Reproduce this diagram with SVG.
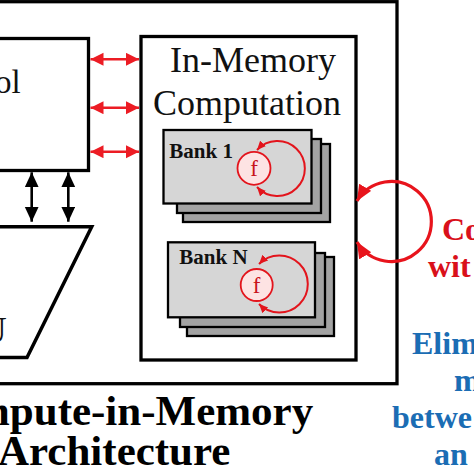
<svg xmlns="http://www.w3.org/2000/svg" width="474" height="474" viewBox="0 0 474 474">
<style>
.box{fill:#fff;stroke:#000;stroke-width:3.3}
.l1{fill:#d6d6d6;stroke:#000;stroke-width:2.3}
.lb{fill:#a3a3a3;stroke:#000;stroke-width:2.3}
.ra{stroke:#ec1c24;stroke-width:2.6;fill:none}
.ba{stroke:#000;stroke-width:2.6;fill:none}
.loop{stroke:#e3141c;stroke-width:2;fill:none}
.big{stroke:#e8141c;stroke-width:3.2;fill:none}
.fc{fill:#fde3e3;stroke:#e3141c;stroke-width:1.8}
.ft{font-family:"Liberation Serif",serif;font-size:23px;fill:#c8141c;text-anchor:middle}
.t36{font-family:"Liberation Serif",serif;font-size:36px;fill:#111}
.bank{font-family:"Liberation Serif",serif;font-size:21px;font-weight:bold;fill:#111}
.title{font-family:"Liberation Serif",serif;font-size:43px;font-weight:bold;fill:#000}
.red{font-family:"Liberation Serif",serif;font-size:32px;font-weight:bold;fill:#d9101a}
.blue{font-family:"Liberation Serif",serif;font-size:32px;font-weight:bold;fill:#1b6db4}
</style>
<defs>
<marker id="mr" markerUnits="userSpaceOnUse" markerWidth="14" markerHeight="14" refX="13" refY="6.5" orient="auto-start-reverse"><path d="M0,0 L13,6.5 L0,13 z" fill="#ec1c24"/></marker>
<marker id="mb" markerUnits="userSpaceOnUse" markerWidth="16" markerHeight="16" refX="15" refY="7" orient="auto-start-reverse"><path d="M0,0 L15,7 L0,14 z" fill="#000"/></marker>
<marker id="ms" markerUnits="userSpaceOnUse" markerWidth="10" markerHeight="10" refX="9" refY="4" orient="auto-start-reverse"><path d="M0,0 L9,4 L0,8 z" fill="#e3141c"/></marker>
<marker id="mg" markerUnits="userSpaceOnUse" markerWidth="17" markerHeight="17" refX="16" refY="7" orient="auto-start-reverse"><path d="M0,0 L16,7 L0,14 z" fill="#e8141c"/></marker>
</defs>
<g id="outer"><rect class="box" x="-10" y="1.7" width="407" height="382"/></g>
<g id="control"><rect class="box" x="-10" y="38.5" width="98.5" height="132"/><text class="t36" x="-5" y="93" style="font-size:33px">ol</text></g>
<g id="alu"><path d="M-10,226.7 L91.7,226.7 L27,357.5 L-10,357.5" fill="#fff" stroke="#000" stroke-width="3.5" stroke-linejoin="miter"/><text class="t36" x="-20" y="343" style="font-size:37px">U</text></g>
<g id="cim"><rect class="box" x="141" y="36.5" width="215" height="323.5"/>
<text class="t36" x="170" y="72">In-Memory</text>
<text class="t36" x="153" y="115">Computation</text></g>
<g id="bank1">
<rect class="lb" x="183" y="144" width="147" height="78"/>
<rect class="lb" x="177" y="139" width="144" height="74"/>
<rect class="l1" x="163.5" y="130" width="148" height="73.5"/>
<text class="bank" x="169.3" y="157.7">Bank 1</text>
<circle class="fc" cx="254" cy="168.3" r="16.5"/>
<text class="ft" x="254" y="176">f</text>
<path class="loop" d="M257,150 A27.5,27.5 0 1 1 257,187" marker-start="url(#ms)" marker-end="url(#ms)"/>
</g>
<g id="bankN">
<rect class="lb" x="187" y="257" width="147" height="79"/>
<rect class="lb" x="180" y="253" width="145" height="74"/>
<rect class="l1" x="168" y="242.3" width="147" height="75"/>
<text class="bank" x="179.3" y="264.3">Bank N</text>
<circle class="fc" cx="256.7" cy="285" r="16"/>
<text class="ft" x="256.7" y="292.5">f</text>
<path class="loop" d="M259,264 A28.5,28.5 0 1 1 259,304" marker-start="url(#ms)" marker-end="url(#ms)"/>
</g>
<g id="connectors">
<line class="ra" x1="90.5" y1="59.3" x2="139" y2="59.3" marker-start="url(#mr)" marker-end="url(#mr)"/>
<line class="ra" x1="90.5" y1="107.7" x2="139" y2="107.7" marker-start="url(#mr)" marker-end="url(#mr)"/>
<line class="ra" x1="90.5" y1="151.7" x2="139" y2="151.7" marker-start="url(#mr)" marker-end="url(#mr)"/>
<line class="ba" x1="31.7" y1="172.3" x2="31.7" y2="221.7" marker-start="url(#mb)" marker-end="url(#mb)"/>
<line class="ba" x1="68.3" y1="172.3" x2="68.3" y2="221.7" marker-start="url(#mb)" marker-end="url(#mb)"/>
<path class="big" d="M357,201 A40,40 0 1 1 357,242" marker-start="url(#mg)" marker-end="url(#mg)"/>
</g>
<g id="labels">
<text class="title" x="-26" y="425">mpute-in-Memory</text>
<text class="title" x="-2" y="465">Architecture</text>
<text class="red" x="442" y="240">Co</text>
<text class="red" x="428" y="277">wit</text>
<text class="blue" x="412" y="354">Elim</text>
<text class="blue" x="454" y="391">m</text>
<text class="blue" x="392" y="428">betwe</text>
<text class="blue" x="434" y="465">an</text>
</g>
</svg>
